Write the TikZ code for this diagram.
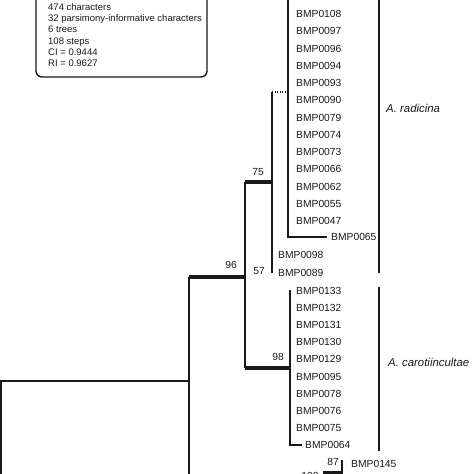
\documentclass[tikz,border=0pt]{standalone}
\usepackage{fontspec}
\setmainfont{Liberation Sans}
\usepackage{tikz}
\usetikzlibrary{positioning}
\definecolor{treeink}{RGB}{25,25,25}
\newcommand{\lblsize}{\fontsize{10.3}{12}\selectfont}
\newcommand{\boxsize}{\fontsize{9.5}{11.2}\selectfont}
\tikzset{
  taxon/.style    ={anchor=west, inner sep=0pt, font=\lblsize, text=treeink},
  boot/.style     ={inner sep=0pt, font=\lblsize, text=treeink},
  cladename/.style={anchor=west, inner sep=0pt, font=\fontsize{11.4}{13}\selectfont\itshape, text=treeink},
  statline/.style ={anchor=base west, inner sep=0pt, font=\boxsize, text=treeink},
  statbox/.style  ={draw=treeink, line width=1.4pt, rounded corners=6pt},
  branch/.style   ={draw=treeink, line width=1.3pt},
  strong/.style   ={draw=treeink, line width=3.2pt},
  weak/.style     ={draw=treeink, line width=1.3pt, dash pattern=on 1.2pt off 1.3pt},
  cladebar/.style ={draw=treeink, line width=1.5pt},
}

\begin{document}
\begin{tikzpicture}[x=1pt,y=-1pt]
\useasboundingbox (0,0) rectangle (474,474);
\clip (0,0) rectangle (474,474);

% tree statistics, the top of the box runs off the page
\foreach \t [count=\i] in {474 characters,32 parsimony-informative characters,6 trees,108 steps,CI = 0.9444,RI = 0.9627}
  \node[statline] (s\i) at (48,{10.4+11.2*(\i-1)}) {\t};
\draw[statbox] (36,-20) rectangle (207,77);

% A. radicina taxa
\foreach \t [count=\i] in {0108,0097,0096,0094,0093,0090,0079,0074,0073,0066,0062,0055,0047}
  \node[taxon] (r\i) at (296,{14+17.25*(\i-1)}) {BMP\t};
\node[taxon] (r65) at (331,237) {BMP0065};
\node[taxon] (r98) at (278,255) {BMP0098};
\node[taxon] (r89) at (278,273) {BMP0089};

% A. carotiincultae taxa
\foreach \t [count=\i] in {0133,0132,0131,0130,0129,0095,0078,0076,0075}
  \node[taxon] (k\i) at (296,{291+17.1*(\i-1)}) {BMP\t};
\node[taxon] (k64) at (305,445) {BMP0064};
\node[taxon] (o145) at (351,464) {BMP0145};

% internal nodes
\coordinate (root) at (1,381);
\coordinate (nA) at (189,381);
\coordinate (nAtop) at (189,277);
\coordinate (n96) at (245,277);
\coordinate (n75) at (245,182);
\coordinate (n98) at (245,368);
\coordinate (n57) at (272,182);
\coordinate (n57top) at (272,92);
\coordinate (nrad) at (288,92);
\coordinate (nkar) at (290,368);
\coordinate (n100) at (323,473);
\coordinate (n87) at (342,473);

% branches
\draw[branch] (1,490) -- (root) -- (nA);
\draw[branch] (nAtop) -- (189,490);
\draw[strong] (nAtop) -- (n96);
\draw[branch] (n75) -- (n98);
\draw[strong] (n75) -- (n57);
\draw[branch] (n57top) -- (n57) -- (272,273);
\draw[weak] (n57top) -- (nrad);
\draw[branch] (288,-10) -- (nrad) |- (r65.west -| 327,0);
\draw[strong] (n98) -- (nkar);
\draw[branch] (290,290) -- (nkar) |- (302,445);
\draw[strong] (n100) -- (n87);
\draw[branch] (342,460) -- (342,490);

% support values
\node[boot] (b75) at (258,172) {75};
\node[boot] (b96) at (231,265) {96};
\node[boot] (b57) at (259,271) {57};
\node[boot] (b98) at (278,357) {98};
\node[boot] (b87) at (333,462) {87};
\node[boot] (b100) at (310,476) {100};

% clade bars
\draw[cladebar] (379,-10) -- (379,273);
\draw[cladebar] (379,287) -- (379,451);
\node[cladename] (crad) at (386,108) {A. radicina};
\node[cladename] (ckar) at (388,362) {A. carotiincultae};
\end{tikzpicture}
\end{document}
